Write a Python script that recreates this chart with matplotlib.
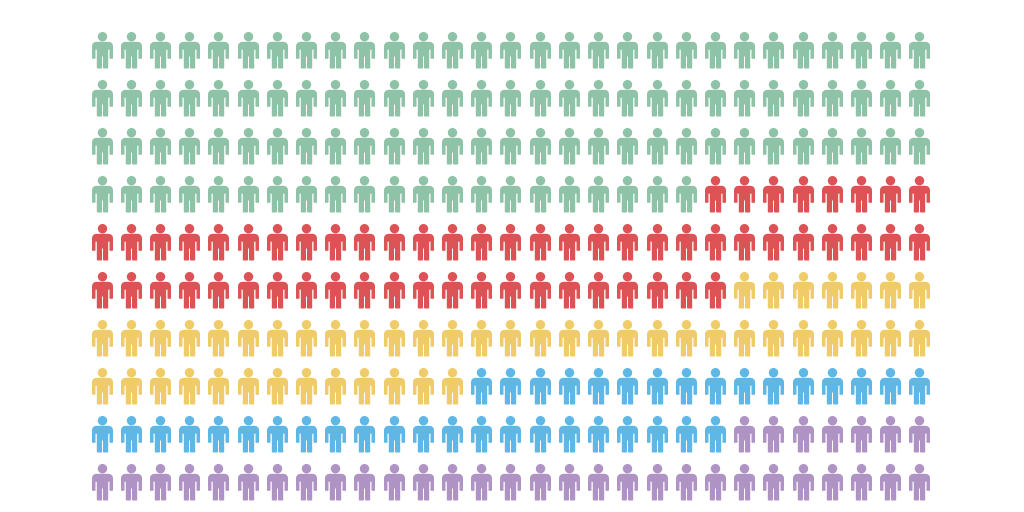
import matplotlib
matplotlib.use('Agg')
import matplotlib.pyplot as plt
from matplotlib.path import Path
import numpy as np

categories = ['green', 'red', 'yellow', 'blue', 'purple']
counts = [108, 59, 49, 38, 36]
colors = ['#8EC3A7', '#DC5356', '#F0CB69', '#5FB7E5', '#AF93C4']
n_cols = 29
n_rows = 10

# person icon, units are roughly pixels, y up
right = [(0.5, 8), (5.5, 8), (9.8, 8), (9.8, 4), (9.8, -7.6), (7.7, -7.6), (7.7, 1.5),
         (5.0, 1.5), (5.0, -17.3), (1.2, -17.3), (1.2, -5.3), (0.5, -5.3)]
right_codes = [Path.MOVETO, Path.LINETO, Path.CURVE3, Path.CURVE3] + [Path.LINETO] * 8
left = [(-x, y) for x, y in right[::-1]]
left_codes = [Path.LINETO] * 9 + [Path.CURVE3, Path.CURVE3, Path.LINETO]
body = Path(right + left + [right[0]], right_codes + left_codes + [Path.CLOSEPOLY])
head = Path.circle((0, 13.8), 4.0)
bottom = Path([(-18, -18), (-18, -18)], [Path.MOVETO, Path.LINETO])
person = Path.make_compound_path(body, head, bottom)

fig = plt.figure(figsize=(10.24, 5.12), dpi=100)
ax = fig.add_axes([101.5 / 1024, 30 / 512, 818 / 1024, 432 / 512])
ax.set_xlim(0, n_cols - 1)
ax.set_ylim(n_rows - 1, 0)
ax.axis('off')

start = 0
for name, count, color in zip(categories, counts, colors):
    idx = np.arange(start, start + count)
    rows, cols = np.divmod(idx, n_cols)
    ax.scatter(cols, rows, marker=person, s=(36 * 0.72) ** 2, c=color, edgecolors=color,
               linewidths=1.0, joinstyle='round', clip_on=False, label=name)
    start += count

fig.savefig('out.png', dpi=100)
